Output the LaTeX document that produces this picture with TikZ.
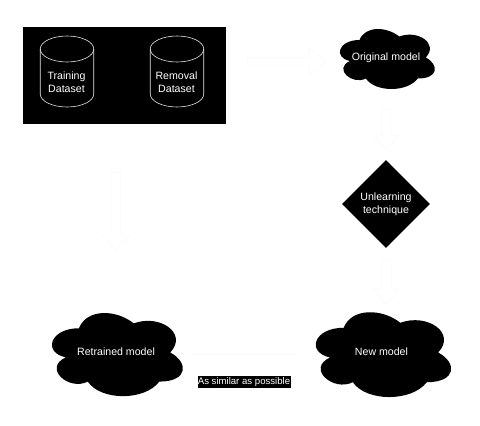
\documentclass[tikz,border=0pt]{standalone}
\usepackage{fontspec}
\setmainfont{Liberation Sans}
\usetikzlibrary{shapes.geometric,shapes.arrows}
\definecolor{faint}{gray}{0.985}
\tikzset{
  lbl/.style={text=white,font=\fontsize{10.6}{12.6}\selectfont,align=center,inner sep=0pt},
  blockarrow/.style={single arrow,draw=faint,fill=white,line width=.7pt,single arrow head indent=0pt,minimum height=#1},
  cylline/.style={draw=white!90!black,line width=.6pt},
}
\newcommand{\cloudfill}[4]{%
  \fill[black,shift={(#1,#2)},x=#3pt,y=-#4pt]
    (.25,.25) .. controls (.05,.25) and (0,.5) .. (.16,.55)
    .. controls (0,.66) and (.18,.9) .. (.31,.8)
    .. controls (.4,1) and (.7,1) .. (.8,.8)
    .. controls (1,.8) and (1,.6) .. (.875,.5)
    .. controls (1,.3) and (.8,.1) .. (.625,.2)
    .. controls (.5,.05) and (.3,.05) .. (.25,.25) -- cycle;}
\newcommand{\cylpath}[1]{%
  \draw[cylline] (#1,49) ellipse [x radius=26.75,y radius=13];
  \draw[cylline] (#1-26.75,49) -- (#1-26.75,94)
    arc [start angle=180,end angle=0,x radius=26.75,y radius=13] -- (#1+26.75,49);}
\begin{document}
\begin{tikzpicture}[x=1pt,y=-1pt]
\useasboundingbox (0,0) rectangle (480,426);
\fill[white] (0,0) rectangle (480,426);
% dataset panel
\node[fill=black,inner sep=0pt,minimum width=203pt,minimum height=97pt] (panel) at (124.5,75.5) {};
\cylpath{67}
\cylpath{177}
\node[lbl] (training) at (66.5,82.5) {Training\\Dataset};
\node[lbl] (removal) at (176.5,82.5) {Removal\\Dataset};
% faint block arrows and link
\coordinate (simL) at (192,354);
\coordinate (simR) at (300,354);
\draw[faint,line width=.7pt] (simL) -- (simR);
\node[blockarrow=79pt,inner sep=3.5pt,single arrow head extend=10pt,single arrow tip angle=77] (a1) at (284.5,61.5) {};
\node[blockarrow=40pt,rotate=-90,inner sep=4pt,single arrow head extend=8.5pt,single arrow tip angle=85] (a2) at (386,127) {};
\node[blockarrow=45pt,rotate=-90,inner sep=4.5pt,single arrow head extend=8.5pt,single arrow tip angle=80] (a3) at (386.5,279.5) {};
\node[blockarrow=77pt,rotate=-90,inner sep=4.5pt,single arrow head extend=10pt,single arrow tip angle=88] (a4) at (115.5,208.5) {};
% clouds
\cloudfill{333}{22.5}{106}{70}
\cloudfill{42.5}{304}{146}{97}
\cloudfill{306}{303}{151}{99}
\node[lbl] (orig) at (386,57.5) {Original model};
\node[lbl] (retr) at (116,352) {Retrained model};
\node[lbl] (newm) at (381.5,352) {New model};
% diamond
\node[diamond,aspect=1,fill=black,inner sep=0pt,minimum size=88pt,lbl] (tech) at (386,204) {Unlearning\\technique};
% similarity label
\node[fill=black,text=white,font=\fontsize{9.6}{12}\selectfont,inner sep=0pt,minimum width=93pt,minimum height=12pt] (sim) at (244,382) {As similar as possible};
\end{tikzpicture}
\end{document}
